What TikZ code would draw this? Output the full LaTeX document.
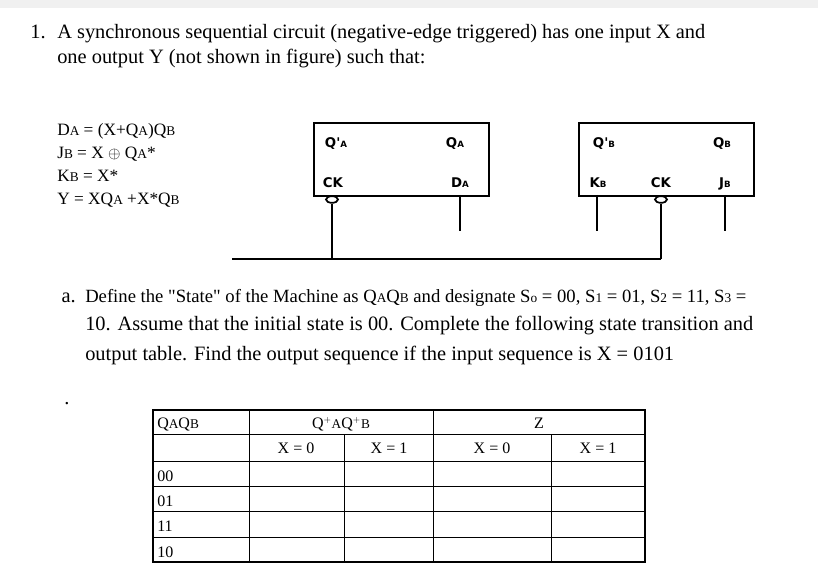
\documentclass[tikz,border=0pt]{standalone}
\usepackage{fontspec}
\setmainfont{Liberation Serif}
\newfontfamily\ffont{DejaVu Sans}
\usetikzlibrary{shapes.geometric}
\newcommand{\lo}[1]{{\fontsize{10}{10}\selectfont #1}}
\newcommand{\flo}[1]{{\fontsize{6.5}{6.5}\selectfont #1}}
\begin{document}
\begin{tikzpicture}[x=0.75pt,y=-0.75pt,
    txt/.style={anchor=base west,inner sep=0pt,font=\fontsize{15.3}{18}\selectfont},
    eqn/.style={anchor=base west,inner sep=0pt,font=\fontsize{13}{15}\selectfont},
    ffbox/.style={draw,line width=1.3pt,minimum width=131.25pt,minimum height=54.75pt,anchor=north west,inner sep=0pt},
    pin/.style={anchor=base,inner sep=0pt,font=\ffont\bfseries\fontsize{10}{10}\selectfont},
    wire/.style={line width=1.3pt},
    bubble/.style={draw,line width=1.3pt,ellipse,minimum width=9pt,minimum height=5pt,inner sep=0pt},
    cell/.style={anchor=base,inner sep=0pt,font=\fontsize{12}{14}\selectfont}]
  \useasboundingbox (0,0) rectangle (818,577);
  \fill[black!6] (0,0) rectangle (818,8);

  \node[txt,anchor=base east] (n1) at (46,39) {1.};
  \node[txt] (l1) at (57,39) {A synchronous sequential circuit (negative-edge triggered) has one input X and};
  \node[txt] (l2) at (57,64) {one output Y (not shown in figure) such that:};

  \node[eqn] (e1) at (57,136) {D\lo{A} = (X+Q\lo{A})Q\lo{B}};
  \node[eqn] (e2) at (57,159) {J\lo{B} = X $\oplus$ Q\lo{A}*};
  \node[eqn] (e3) at (57,182) {K\lo{B} = X*};
  \node[eqn] (e4) at (57,205) {Y = XQ\lo{A} +X*Q\lo{B}};

  % flip-flops
  \node[ffbox] (ffa) at (313,122) {};
  \node[ffbox] (ffb) at (578,122) {};
  \node[pin] (qna) at (336,148) {Q'\flo{A}};
  \node[pin] (qa) at (455,148) {Q\flo{A}};
  \node[pin] (cka) at (333,188) {CK};
  \node[pin] (da) at (460,188) {D\flo{A}};
  \node[pin] (qnb) at (604,148) {Q'\flo{B}};
  \node[pin] (qb) at (722,148) {Q\flo{B}};
  \node[pin] (kb) at (598,188) {K\flo{B}};
  \node[pin] (ckb) at (661,188) {CK};
  \node[pin] (jb) at (725,188) {J\flo{B}};

  \node[bubble] (bca) at (332,199.5) {};
  \node[bubble] (bcb) at (661,199.5) {};
  \coordinate (ckl) at (232,259);
  \coordinate (cka0) at (332,259);
  \coordinate (ckb0) at (661,259);
  \draw[wire] (bca.south) -- (cka0);
  \draw[wire] (bcb.south) -- (ckb0);
  \draw[wire] (ckl) -- (ckb0);
  \coordinate (dae) at (460,231);
  \coordinate (kbe) at (597,231);
  \coordinate (jbe) at (725,231);
  \draw[wire] (460,195) -- (dae);
  \draw[wire] (597,195) -- (kbe);
  \draw[wire] (725,195) -- (jbe);

  % part a
  \node[txt,anchor=base east] (na) at (76,303) {a.};
  \node[txt,font=\fontsize{14}{18}\selectfont] (a1) at (85,303) {Define the \textquotedbl State\textquotedbl{} of the Machine as Q\lo{A}Q\lo{B} and designate S\lo{o} = 00, S\lo{1} = 01, S\lo{2} = 11, S\lo{3} =};
  \node[txt] (a2) at (85,331) {10. Assume that the initial state is 00. Complete the following state transition and};
  \node[txt] (a3) at (85,361) {output table. Find the output sequence if the input sequence is X = 0101};
  \node[txt] (dot) at (64,404) {.};

  % table
  \draw[line width=0.8pt] (153,410) rectangle (645,562);
  \foreach \y in {434,461,486,511,537} \draw[line width=0.6pt] (153,\y) -- (645,\y);
  \foreach \x in {249,433} \draw[line width=0.6pt] (\x,410) -- (\x,562);
  \foreach \x in {344,551} \draw[line width=0.6pt] (\x,434) -- (\x,562);
  \node[cell,anchor=base west] (hq) at (157,428) {Q\lo{A}Q\lo{B}};
  \node[cell] (hn) at (341,428) {Q$^{\scriptscriptstyle +}$\lo{A}Q$^{\scriptscriptstyle +}$\lo{B}};
  \node[cell] (hz) at (539,428) {Z};
  \node[cell] (c1) at (296,454) {X = 0};
  \node[cell] (c2) at (389,454) {X = 1};
  \node[cell] (c3) at (492,454) {X = 0};
  \node[cell] (c4) at (598,454) {X = 1};
  \foreach \s/\y in {00/481,01/506,11/531,10/557}
    \node[cell,anchor=base west] at (157,\y) {\s};
\end{tikzpicture}
\end{document}
